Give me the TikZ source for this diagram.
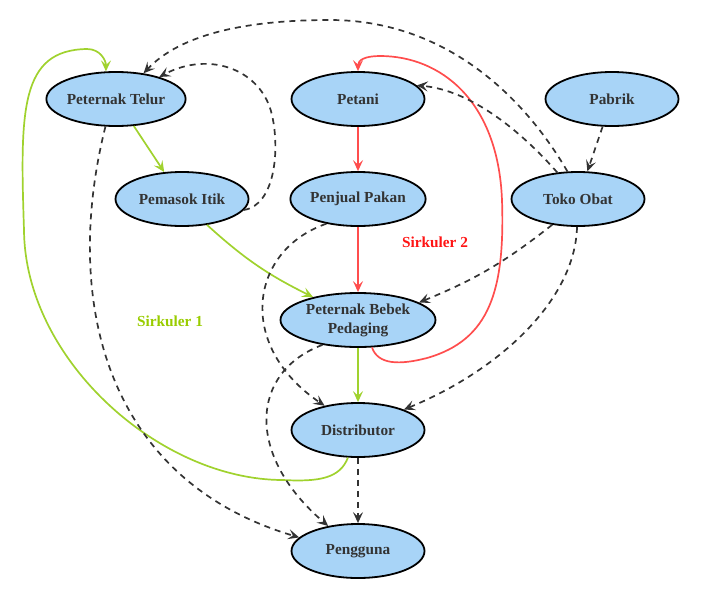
\documentclass[tikz,border=0pt]{standalone}
\usepackage{fontspec}
\setmainfont{Liberation Serif}
\usepackage{tikz}
\usetikzlibrary{shapes}
\usetikzlibrary{arrows.meta}
\definecolor{birumuda}{RGB}{168,212,247}
\definecolor{hijau}{RGB}{160,210,46}
\definecolor{hijautks}{RGB}{153,204,0}
\definecolor{merah}{RGB}{255,77,77}
\definecolor{merahtks}{RGB}{255,20,20}
\definecolor{gelap}{RGB}{51,51,51}
\tikzset{
  aktor/.style={shape=ellipse, draw=black, line width=1.8pt, fill=birumuda, inner sep=0pt,
    minimum width=133pt, minimum height=54pt, align=center, text=gelap,
    font=\bfseries\fontsize{15.3}{19}\selectfont},
  ujung/.style={-{Stealth[length=11pt,width=10pt,inset=4.5pt]}},
  jalurhijau/.style={ujung, draw=hijau, line width=1.7pt},
  jalurmerah/.style={ujung, draw=merah, line width=1.7pt},
  jalurputus/.style={ujung, draw=gelap, line width=1.7pt, dash pattern=on 6pt off 5pt},
  labelsirk/.style={font=\bfseries\fontsize{15.3}{19}\selectfont}
}

\begin{document}
\begin{tikzpicture}[x=1pt,y=-1pt]
        \useasboundingbox (0,0) rectangle (703,600);

        % row 1
        \node[aktor] (telur) at (116,99) {Peternak Telur};
        \node[aktor] (petani) at (358,99) {Petani};
        \node[aktor] (pabrik) at (612,99) {Pabrik};

        % row 2
        \node[aktor] (pemasok) at (182,199) {Pemasok Itik};
        \node[aktor] (pakan) at (358,199) {Penjual Pakan};
        \node[aktor] (toko) at (578,199) {Toko Obat};

        % middle column
        \node[aktor, minimum width=155pt] (bebek) at (358,320) {Peternak Bebek\\Pedaging};
        \node[aktor] (distrib) at (358,430) {Distributor};
        \node[aktor] (pengguna) at (358,551) {Pengguna};

        % labels
        \node[labelsirk, text=hijautks] (sirk1) at (170,321) {Sirkuler 1};
        \node[labelsirk, text=merahtks] (sirk2) at (435,242) {Sirkuler 2};

        % sirkuler 1
        \draw[jalurhijau] (telur) -- (pemasok);
        \draw[jalurhijau] (pemasok.-46) to[bend right=8] (bebek.153);
        \draw[jalurhijau] (bebek) -- (distrib);
        \draw[jalurhijau] (distrib.-110) .. controls (340,478) and (320,482) .. (283,480)
            .. controls (160,480) and (25,360) .. (24,230)
            .. controls (20,110) and (20,50) .. (87,49)
            .. controls (100,49) and (106,60) .. (telur.110);

        % sirkuler 2
        \draw[jalurmerah] (petani) -- (pakan);
        \draw[jalurmerah] (pakan) -- (bebek);
        \draw[jalurmerah] (bebek.-63) .. controls (378,365) and (400,365) .. (427,358)
            .. controls (490,340) and (505,290) .. (502,200)
            .. controls (498,100) and (440,56) .. (380,56)
            .. controls (365,56) and (358,60) .. (petani.north);

        % dashed flows
        \draw[jalurputus] (toko.111) .. controls (520,90) and (440,20) .. (330,20)
            .. controls (230,20) and (175,40) .. (telur.43);
        \draw[jalurputus] (pemasok.-10) .. controls (275,205) and (280,150) .. (272,115)
            .. controls (262,70) and (210,50) .. (telur.27);
        \draw[jalurputus] (toko.128) .. controls (520,130) and (470,90) .. (petani.13);
        \draw[jalurputus] (pabrik) -- (toko);
        \draw[jalurputus] (toko.-135) to[bend left=8] (bebek.16);
        \draw[jalurputus] (toko.-92) .. controls (575,300) and (500,370) .. (distrib.24);
        \draw[jalurputus] (pakan.-142) .. controls (250,250) and (235,345) .. (distrib.144);
        \draw[jalurputus] (bebek.-145) .. controls (250,372) and (245,455) .. (pengguna.140);
        \draw[jalurputus] (telur.-111) .. controls (62,300) and (105,480) .. (pengguna.167);
        \draw[jalurputus] (distrib) -- (pengguna);

    \end{tikzpicture}
\end{document}
